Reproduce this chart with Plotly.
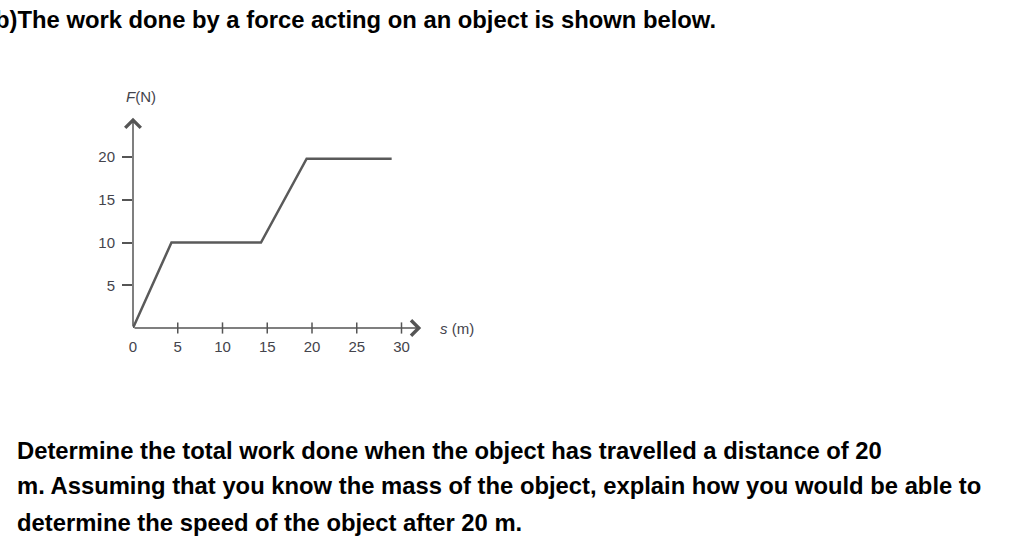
import plotly.graph_objects as go

# ---- data ----
s_vals = [0, 4.3, 14.3, 19.4, 28.9]
F_vals = [0, 10, 10, 19.8, 19.8]
x_ticks = [0, 5, 10, 15, 20, 25, 30]
y_ticks = [5, 10, 15, 20]
x_arrow_end = 32.2
y_arrow_end = 24.6

title_text = "b)The work done by a force acting on an object is shown below."
body_lines = [
    "Determine the total work done when the object has travelled a distance of 20",
    "m. Assuming that you know the mass of the object, explain how you would be able to",
    "determine the speed of the object after 20 m.",
]

# ---- layout geometry ----
FW, FH = 1024, 545
L, R, T, B = 133, 587, 106, 217
W = FW - L - R
H = FH - T - B
px_per_x = 8.95
px_per_y = 8.55

AX = "#555555"
TXT = "#44444c"
FONT = "Liberation Sans, Arial, sans-serif"


def px(xp, yp):
    return (xp - L) / W, (FH - B - yp) / H


fig = go.Figure()

fig.add_trace(go.Scatter(
    x=s_vals, y=F_vals, mode="lines",
    line=dict(color="#5a5a5a", width=2.5),
    hoverinfo="skip", showlegend=False, cliponaxis=False,
))

# crossing tick marks on the s axis
fig.add_trace(go.Scatter(
    x=x_ticks[1:], y=[0] * (len(x_ticks) - 1), mode="markers",
    marker=dict(symbol="line-ns", size=8, line=dict(color=AX, width=1.5)),
    hoverinfo="skip", showlegend=False, cliponaxis=False,
))

annotations = []
# axis arrows
annotations.append(dict(x=0, y=y_arrow_end, ax=0, ay=0, xref="x", yref="y",
                        axref="x", ayref="y", showarrow=True, arrowhead=4,
                        arrowsize=2, arrowwidth=1.5, arrowcolor=AX, text=""))
annotations.append(dict(x=x_arrow_end, y=0, ax=0, ay=0, xref="x", yref="y",
                        axref="x", ayref="y", showarrow=True, arrowhead=4,
                        arrowsize=2, arrowwidth=1.5, arrowcolor=AX, text=""))

# axis titles
xa, ya = px(141, 96)
annotations.append(dict(x=xa, y=ya, xref="paper", yref="paper", showarrow=False,
                        xanchor="center", yanchor="middle",
                        text="<i>F</i>(N)", font=dict(size=15, color=TXT, family=FONT)))
xa, ya = px(438, 328)
annotations.append(dict(x=xa, y=ya, xref="paper", yref="paper", showarrow=False,
                        xanchor="left", yanchor="middle", text="<i>s</i> (m)",
                        font=dict(size=15, color=TXT, family=FONT)))

# title and body text
xa, ya = px(-7.5, 19)
annotations.append(dict(x=xa, y=ya, xref="paper", yref="paper", showarrow=False,
                        xanchor="left", yanchor="middle", text="<b>%s</b>" % title_text,
                        font=dict(size=23.8, color="#000000", family=FONT)))
for line, yp in zip(body_lines, [450, 486, 522]):
    xa, ya = px(15, yp)
    annotations.append(dict(x=xa, y=ya, xref="paper", yref="paper", showarrow=False,
                            xanchor="left", yanchor="middle", text="<b>%s</b>" % line,
                            font=dict(size=23.8, color="#000000", family=FONT)))

fig.update_layout(
    width=FW, height=FH,
    margin=dict(l=L, r=R, t=T, b=B, pad=0),
    paper_bgcolor="white", plot_bgcolor="white",
    annotations=annotations,
    xaxis=dict(range=[0, W / px_per_x], tickvals=x_ticks, ticks="",
               showline=False, showgrid=False, zeroline=False,
               ticklabelstandoff=8,
               tickfont=dict(size=15, color=TXT, family=FONT)),
    yaxis=dict(range=[0, H / px_per_y], tickvals=y_ticks, ticks="outside",
               ticklen=10, tickwidth=1.5, tickcolor=AX, showline=False,
               showgrid=False, zeroline=False, ticklabelstandoff=4,
               tickfont=dict(size=15, color=TXT, family=FONT)),
)

fig.write_html("out.html",
               config={"displayModeBar": False},
               post_script="document.body.style.margin='0px';"
                           "document.body.style.overflow='hidden';")
